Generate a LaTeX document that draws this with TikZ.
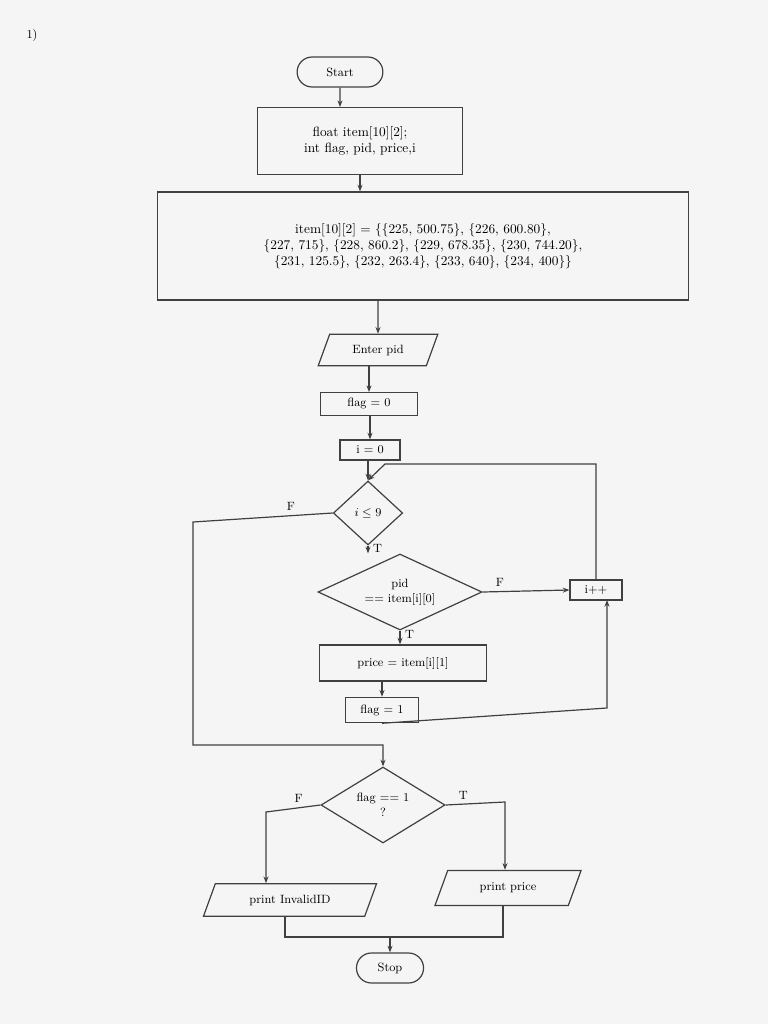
\documentclass[tikz,border=0pt]{standalone}
\usetikzlibrary{shapes.geometric,shapes.misc,arrows.meta}
\begin{document}
\begin{tikzpicture}[x=0.75pt,y=-0.75pt,
  ink/.style={draw=black!75,line width=0.9pt},
  boxn/.style={ink,rectangle,inner sep=2pt,align=center,font=\small},
  term/.style={ink,rounded rectangle,minimum height=22.5pt,font=\small},
  io/.style={ink,trapezium,trapezium left angle=70,trapezium right angle=110,minimum height=22pt,font=\small},
  dec/.style={ink,diamond,aspect=1.8,inner sep=1pt,align=center,font=\small},
  arr/.style={ink,-{Stealth[length=5pt]}},
  lab/.style={font=\small}]
\fill[gray!8] (0,0) rectangle (768,1024);
\useasboundingbox (0,0) rectangle (768,1024);
\node[lab] (one) at (32,35) {1)};
\node[term,minimum width=71pt] (start) at (340,72) {Start};
\node[boxn,minimum width=154pt,minimum height=50pt,font=\normalsize] (decl) at (360,141) {float item[10][2];\\int flag, pid, price,i};
\node[boxn,minimum width=398pt,minimum height=81pt,font=\normalsize] (init) at (423,246) {item[10][2] = \{\{225, 500.75\}, \{226, 600.80\},\\ \{227, 715\}, \{228, 860.2\}, \{229, 678.35\}, \{230, 744.20\},\\ \{231, 125.5\}, \{232, 263.4\}, \{233, 640\}, \{234, 400\}\}};
\node[io,minimum width=90pt] (enter) at (378,350) {Enter pid};
\node[boxn,minimum width=73pt,minimum height=17pt] (flag0) at (369,404) {flag = 0};
\node[boxn,minimum width=45pt,minimum height=15pt] (i0) at (370,450) {i = 0};
\node[dec,minimum width=52pt,minimum height=48pt] (c1) at (368,513) {$i\le 9$};
\node[dec,minimum width=123pt,minimum height=57pt] (c2) at (400,592) {pid\\ == item[i][0]};
\node[boxn,minimum width=39pt,minimum height=15pt] (inc) at (596,590) {i++};
\node[boxn,minimum width=125pt,minimum height=27pt] (price) at (403,663) {price = item[i][1]};
\node[boxn,minimum width=55pt,minimum height=19pt] (flag1) at (382,710) {flag = 1};
\node[dec,minimum width=93pt,minimum height=57pt] (c3) at (383,805) {flag == 1\\ ?};
\node[io,minimum width=130pt] (pinv) at (290,900) {print InvalidID};
\node[io,minimum width=110pt] (ppr) at (508,888) {print price};
\node[term,minimum width=57pt] (stop) at (390,968) {Stop};
\draw[arr] (start) -- (start|-decl.north);
\draw[arr] (decl.south) -- (decl.south|-init.north);
\draw[arr] (init.south-|enter) -- (enter);
\draw[arr] (enter.south-|flag0) -- (flag0);
\draw[arr] (flag0.south-|i0) -- (i0);
\draw[arr] (i0.south-|c1) -- (c1);
\draw[arr] (c1.south) -- node[lab,right,pos=0.4]{T} (c1.south|-c2.north);
\draw[arr] (c2.east) -- node[lab,above,pos=0.2]{F} (inc.west);
\draw[arr] (c2.south) -- node[lab,right,pos=0.3]{T} (c2.south|-price.north);
\draw[arr] (price.south-|flag1) -- (flag1);
\coordinate (lp1) at (607,708);
\draw[arr] (flag1.south) -- (lp1) -- (607,600);
\coordinate (lp2) at (596,464);
\coordinate (lp3) at (385,464);
\draw[arr] (inc.north) -- (lp2) -- (lp3) -- (c1.north);
\coordinate (f1) at (193,522);
\coordinate (f2) at (193,745);
\coordinate (f3) at (383,745);
\draw[arr] (c1.west) -- node[lab,above,pos=0.3]{F} (f1) -- (f2) -- (f3) -- (c3.north);
\coordinate (g1) at (266,812);
\draw[arr] (c3.west) -- node[lab,above,pos=0.4]{F} (g1) -- (g1|-pinv.north);
\coordinate (h1) at (505,802);
\draw[arr] (c3.east) -- node[lab,above,pos=0.3]{T} (h1) -- (h1|-ppr.north);
\coordinate (m1) at (285,937);
\coordinate (m2) at (503,937);
\draw[ink] (pinv.south-|m1) -- (m1) -- (m2) -- (ppr.south-|m2);
\draw[arr] (390,937) -- (stop.north);
\end{tikzpicture}
\end{document}
